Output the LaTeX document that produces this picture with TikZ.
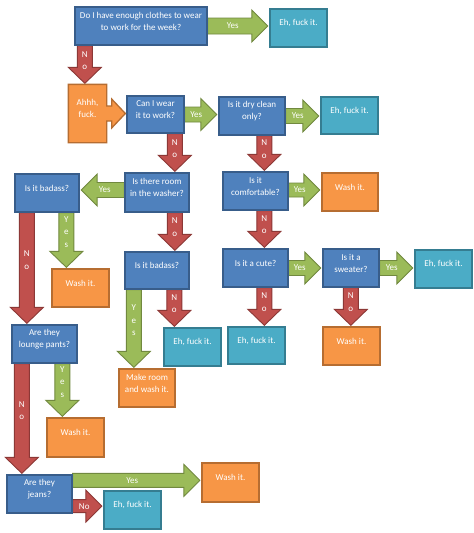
\documentclass[tikz,border=0pt]{standalone}
\usepackage{fontspec}
\setmainfont{Carlito}
\usetikzlibrary{calc}
\pgfdeclarelayer{bg}
\pgfsetlayers{bg,main}
\definecolor{bfill}{HTML}{4F81BD}
\definecolor{bdraw}{HTML}{385D8A}
\definecolor{ofill}{HTML}{F79646}
\definecolor{odraw}{HTML}{B66D31}
\definecolor{tfill}{HTML}{4BACC6}
\definecolor{tdraw}{HTML}{357D91}
\definecolor{gfill}{HTML}{9BBB59}
\definecolor{gdraw}{HTML}{71893F}
\definecolor{rfill}{HTML}{C0504D}
\definecolor{rdraw}{HTML}{8C3836}
\tikzset{
  box/.style={rectangle, line width=1.3pt, inner sep=0pt},
  bluebox/.style={box, fill=bfill, draw=bdraw},
  orangebox/.style={box, fill=ofill, draw=odraw},
  tealbox/.style={box, fill=tfill, draw=tdraw},
  txt/.style={text=white, font=\fontsize{9}{12}\selectfont, align=center, inner sep=0pt},
  garrow/.style={fill=gfill, draw=gdraw, line width=0.9pt, line join=miter},
  rarrow/.style={fill=rfill, draw=rdraw, line width=0.9pt, line join=miter},
  albl/.style={text=white, font=\fontsize{9}{12.5}\selectfont, align=center, inner sep=0pt},
}
% box: style, name, x1, y1, x2, y2, text
\newcommand\bx[7]{\node[#1, minimum width={(#5-#3)*1pt}, minimum height={(#6-#4)*1pt}, label={[txt,yshift=5pt]center:{#7}}] (#2) at ({(#3+#5)/2},{(#4+#6)/2}) {};}
% down arrow: style, name, start, target node, label, label offset
\newcommand\downarr[6]{%
  \coordinate (#2s) at #3;
  \coordinate (#2t) at (#2s |- #4.north);
  \coordinate (#2e) at ($(#2t)+(0,-1)$);
  \coordinate (#2h) at ($(#2e)+(0,-16)$);
  \begin{pgfonlayer}{bg}
  \draw[#1] ($(#2s)+(-7.5,0)$) -- ($(#2h)+(-7.5,0)$) -- ($(#2h)+(-16.5,0)$) -- (#2e) -- ($(#2h)+(16.5,0)$) -- ($(#2h)+(7.5,0)$) -- ($(#2s)+(7.5,0)$) -- cycle;
  \end{pgfonlayer}
  \coordinate (#2m) at ($(#2s)!0.5!(#2h)$);
  \node[albl] (#2l) at ($(#2m)+(0,#6)$) {#5};
}
% right arrow: style, name, start, target node, label, body half height, label offset
\newcommand\rightarr[7]{%
  \coordinate (#2s) at #3;
  \coordinate (#2t) at (#2s -| #4.west);
  \coordinate (#2e) at ($(#2t)+(-1.5,0)$);
  \coordinate (#2h) at ($(#2e)+(-16,0)$);
  \begin{pgfonlayer}{bg}
  \draw[#1] ($(#2s)+(0,-#6)$) -- ($(#2h)+(0,-#6)$) -- ($(#2h)+(0,-16)$) -- (#2e) -- ($(#2h)+(0,16)$) -- ($(#2h)+(0,#6)$) -- ($(#2s)+(0,#6)$) -- cycle;
  \end{pgfonlayer}
  \coordinate (#2m) at ($(#2s)!0.5!(#2h)$);
  \node[albl] (#2l) at ($(#2m)+(#7,0)$) {#5};
}
% left arrow
\newcommand\leftarr[7]{%
  \coordinate (#2s) at #3;
  \coordinate (#2t) at (#2s -| #4.east);
  \coordinate (#2e) at ($(#2t)+(1.5,0)$);
  \coordinate (#2h) at ($(#2e)+(16,0)$);
  \begin{pgfonlayer}{bg}
  \draw[#1] ($(#2s)+(0,-#6)$) -- ($(#2h)+(0,-#6)$) -- ($(#2h)+(0,-16)$) -- (#2e) -- ($(#2h)+(0,16)$) -- ($(#2h)+(0,#6)$) -- ($(#2s)+(0,#6)$) -- cycle;
  \end{pgfonlayer}
  \coordinate (#2m) at ($(#2s)!0.5!(#2h)$);
  \node[albl] (#2l) at ($(#2m)+(#7,0)$) {#5};
}
\begin{document}
\begin{tikzpicture}[x=1pt,y=-1pt]
\begin{pgfonlayer}{bg}
\fill[white] (0,0) rectangle (474,533);
\end{pgfonlayer}
\useasboundingbox (0,0) rectangle (474,533);

\bx{bluebox}{q1}{75}{7}{207}{45}{Do I have enough clothes to wear\\to work for the week?}
\bx{tealbox}{eh1}{270}{9}{327}{47}{Eh, fuck it.}
\node[box, draw=none, minimum width=37pt, minimum height=57pt] (ahh) at (87.5,113.5) {};
\bx{bluebox}{cw}{127}{96}{184}{133}{Can I wear\\it to work?}
\bx{bluebox}{dry}{219}{97}{285}{135}{Is it dry clean\\only?}
\bx{tealbox}{eh2}{321}{97}{378}{134}{Eh, fuck it.}
\bx{bluebox}{lbad}{15}{174}{79}{212}{Is it badass?}
\bx{bluebox}{room}{125}{173}{189}{212}{Is there room\\in the washer?}
\bx{bluebox}{comf}{223}{172}{288}{210}{Is it\\comfortable?}
\bx{orangebox}{washr}{322}{173}{378}{211}{Wash it.}
\bx{bluebox}{mbad}{125}{252}{189}{289}{Is it badass?}
\bx{bluebox}{cute}{223}{249}{288}{287}{Is it a cute?}
\bx{bluebox}{sweat}{323}{249}{379}{287}{Is it a\\sweater?}
\bx{tealbox}{ehfr}{415}{250}{472}{288}{Eh, fuck it.}
\bx{orangebox}{washL}{52}{269}{109}{307}{Wash it.}
\bx{tealbox}{ehm}{164}{328}{221}{366}{Eh, fuck it.}
\bx{tealbox}{ehc}{228}{327}{285}{364}{Eh, fuck it.}
\bx{orangebox}{washsw}{323}{327}{380}{365}{Wash it.}
\bx{bluebox}{lounge}{12}{325}{77}{363}{Are they\\lounge pants?}
\bx{orangebox}{make}{119}{369}{175}{407}{Make room\\and wash it.}
\bx{orangebox}{washlo}{47}{418}{104}{457}{Wash it.}
\bx{bluebox}{jeans}{7}{475}{72}{513}{Are they\\jeans?}
\bx{orangebox}{washB}{202}{463}{259}{502}{Wash it.}
\bx{tealbox}{ehB}{104}{491}{161}{529}{Eh, fuck it.}

% Ahhh callout
\coordinate (ahhtip) at ($(ahh.east -| cw.west)+(-1,0)$);
\draw[orangebox] (ahh.north west) -- (ahh.north east) -- ($(ahh.east)+(0,-7.5)$) -- ($(ahh.east)+(5,-7.5)$) -- ($(ahh.east)+(5,-14.5)$) -- (ahhtip) -- ($(ahh.east)+(5,14.5)$) -- ($(ahh.east)+(5,7.5)$) -- ($(ahh.east)+(0,7.5)$) -- (ahh.south east) -- (ahh.south west) -- cycle;
\node[txt] (ahhtext) at ($(ahh.center)+(0,-5)$) {Ahhh,\\fuck.};

% arrows
\downarr{rarrow}{a1}{($(q1.south west)+(10.5,0)$)}{ahh}{N\\o}{4}
\rightarr{garrow}{a2}{(q1.east)}{eh1}{Yes}{8}{3}
\rightarr{garrow}{a3}{(cw.east)}{dry}{Yes}{7.5}{3.5}
\rightarr{garrow}{a4}{(dry.east)}{eh2}{Yes}{7.5}{3.5}
\downarr{rarrow}{a5}{($(cw.south west)+(48.5,0)$)}{room}{N\\o}{4}
\downarr{rarrow}{a6}{($(dry.south west)+(46,0)$)}{comf}{N\\o}{4}
\leftarr{garrow}{a7}{($(room.west)+(0,-2.5)$)}{lbad}{Yes}{7.5}{-6}
\rightarr{garrow}{a8}{($(comf.east)+(0,-1)$)}{washr}{Yes}{7}{3.5}
\downarr{rarrow}{a9}{($(room.south west)+(50.5,0)$)}{mbad}{N\\o}{3.5}
\downarr{rarrow}{a10}{($(comf.south west)+(42,0)$)}{cute}{N\\o}{3.5}
\rightarr{garrow}{a11}{(cute.east)}{sweat}{Yes}{7.5}{3}
\rightarr{garrow}{a12}{(sweat.east)}{ehfr}{Yes}{7.5}{3.5}
\downarr{rarrow}{a13}{($(lbad.south west)+(12.5,0)$)}{lounge}{N\\o}{0}
\downarr{garrow}{a14}{($(lbad.south west)+(52,0)$)}{washL}{Y\\e\\s}{0}
\downarr{garrow}{a15}{($(mbad.south west)+(9.5,0)$)}{make}{Y\\e\\s}{0}
\downarr{rarrow}{a16}{($(mbad.south west)+(50,0)$)}{ehm}{N\\o}{3.5}
\downarr{rarrow}{a17}{($(cute.south west)+(42,0)$)}{ehc}{N\\o}{3.5}
\downarr{rarrow}{a18}{($(sweat.south west)+(28.5,0)$)}{washsw}{N\\o}{3.5}
\downarr{rarrow}{a19}{($(lounge.south west)+(10.5,0)$)}{jeans}{N\\o}{0}
\downarr{garrow}{a20}{($(lounge.south west)+(51,0)$)}{washlo}{Y\\e\\s}{0}
\rightarr{garrow}{a21}{($(jeans.north east)+(0,6)$)}{washB}{Yes}{7}{4}
\rightarr{rarrow}{a22}{($(jeans.south east)+(0,-7.5)$)}{ehB}{No}{6.5}{5}
\end{tikzpicture}
\end{document}
